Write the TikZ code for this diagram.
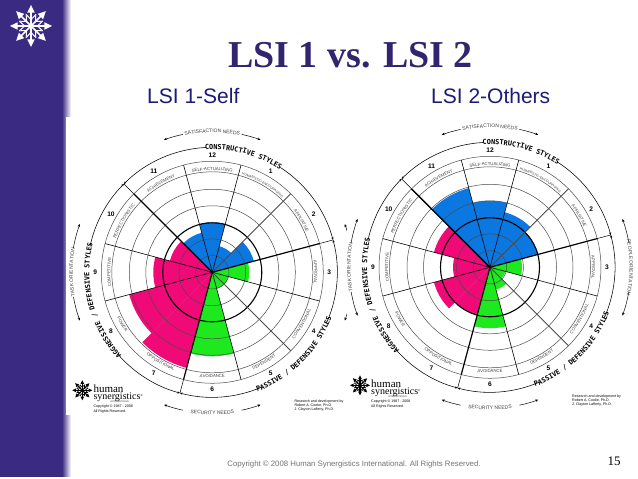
\documentclass[tikz,border=0pt]{standalone}
\usepackage{fontspec}
\setmainfont{Liberation Serif}
\newfontfamily\sansF{Liberation Sans}
\newfontfamily\monoF{DejaVu Sans Mono}
\usetikzlibrary{arrows.meta,decorations.text}
\definecolor{bandpurple}{HTML}{3B2A82}
\definecolor{subnavy}{HTML}{1C1C78}
\definecolor{lsiblue}{HTML}{0A78E0}
\definecolor{lsipink}{HTML}{F00A78}
\definecolor{lsigreen}{HTML}{1EE81E}
\definecolor{labelgray}{HTML}{404040}
\definecolor{ringgray}{HTML}{4A4A4A}
\newcommand\bandF{\sansF\fontsize{4.3}{4.3}\selectfont}
\newcommand\tinybandF{\sansF\fontsize{3.3}{3.3}\selectfont}
\newcommand\needsF{\sansF\fontsize{5}{5}\selectfont}
\newcommand\styleF{\monoF\bfseries\fontsize{6.9}{6.9}\selectfont}
\newcommand\arctext[6]{\path[decorate,decoration={text along path,text={|#4|#5},text align=center,text color=#6}] (#1:#3) arc[start angle=#1,end angle=#2,radius=#3];}
\newcommand\flake[5]{%
\begin{scope}[shift={(#1,#2)}]
\foreach \a in {0,45,...,315}{
\draw[#4,line width=#5] (0,0) -- (\a:#3*0.8);
\fill[#4] (\a:#3) -- (\a+16:#3*0.66) -- (\a-16:#3*0.66) -- cycle;
\draw[#4,line width=#5*0.6] (\a+22.5:#3*0.6) -- (\a:#3*0.3) -- (\a-22.5:#3*0.6);
}
\end{scope}}
\newcommand\lsichart[6]{%
\begin{scope}
\clip (#4,64) rectangle (#5,362);
\fill[white] (#4,64) rectangle (#5,362);
\begin{scope}[shift={(#2,#3)}]
\foreach \k/\vv/\cc in {#6}{
\pgfmathsetmacro\aa{90-30*\k}
\fill[\cc] (0,0) -- (\aa-15:\vv) arc[start angle=\aa-15,end angle=\aa+15,radius=\vv] -- cycle;
}
\foreach \rr in {16.7,33.4,66.5,83,100.5,111}{
\draw[ringgray,line width=0.5] (0,0) circle[radius=\rr];
}
\draw[black,line width=1.1] (0,0) circle[radius=49.5];
\foreach \aa in {75,105,165,195,285,345}{
\draw[black,line width=0.6] (0,0) -- (\aa:111);
}
\foreach \aa in {45,315}{
\draw[ringgray,line width=0.9] (0,0) -- (\aa:111);
}
\foreach \aa/\ww in {135/1.4,15/1.2,255/1.2}{
\draw[black,line width=\ww] (0,0) -- (\aa:111);
\draw[black,line width=0.5] (\aa:111) -- (\aa:125);
}
\foreach \s/\e in {57/15,-23/15,-67/-105,-139/-105,168/135,93/135}{
\draw[black,line width=0.55,-{Stealth[length=2.6pt,width=2.2pt]}] (\s:125) arc[start angle=\s,end angle=\e,radius=125];
}
\foreach \s/\e in {102/110,78/70,-102/-110,-78/-70,170/160,190/200,10/20,-10/-20}{
\draw[black,line width=0.5,-{Stealth[length=3pt,width=2.6pt]}] (\s:141) arc[start angle=\s,end angle=\e,radius=141];
}
\arctext{110}{70}{139.5}{\needsF}{SATISFACTION NEEDS}{labelgray}
\arctext{-110}{-70}{142.5}{\needsF}{SECURITY NEEDS}{labelgray}
\arctext{205}{155}{139.5}{\needsF}{TASK ORIENTATION}{labelgray}
\arctext{25}{-25}{139.5}{\needsF}{PEOPLE ORIENTATION}{labelgray}
\arctext{97}{53}{123}{\styleF}{CONSTRUCTIVE STYLES}{black}
\arctext{-71}{-19}{127.5}{\styleF}{PASSIVE / DEFENSIVE STYLES}{black}
\arctext{224}{165}{123}{\styleF}{AGGRESSIVE / DEFENSIVE STYLES}{black}
\arctext{105}{75}{102}{\bandF}{SELF-ACTUALIZING}{labelgray}
\arctext{75}{45}{102}{\tinybandF}{HUMANISTIC-ENCOURAGING}{labelgray}
\arctext{45}{15}{102}{\bandF}{AFFILIATIVE}{labelgray}
\arctext{15}{-15}{102}{\bandF}{APPROVAL}{labelgray}
\arctext{-45}{-15}{105.5}{\bandF}{CONVENTIONAL}{labelgray}
\arctext{-75}{-45}{105.5}{\bandF}{DEPENDENT}{labelgray}
\arctext{-105}{-75}{105.5}{\bandF}{AVOIDANCE}{labelgray}
\arctext{-135}{-105}{105.5}{\bandF}{OPPOSITIONAL}{labelgray}
\arctext{-165}{-135}{105.5}{\bandF}{POWER}{labelgray}
\arctext{195}{165}{102}{\bandF}{COMPETITIVE}{labelgray}
\arctext{165}{135}{102}{\bandF}{PERFECTIONISTIC}{labelgray}
\arctext{135}{105}{102}{\bandF}{ACHIEVEMENT}{labelgray}
\foreach \k in {1,...,12}{
\node[font=\sansF\bfseries\fontsize{6.6}{6.6}\selectfont,inner sep=0pt] (#1num\k) at ({90-30*\k}:117) {\k};
}
\flake{-130}{-118}{10}{black}{1.1}
\node[font=\fontsize{11}{11}\selectfont,anchor=west,inner sep=0pt] (#1human) at (-119,-116) {human};
\node[font=\fontsize{10}{10}\selectfont,anchor=west,inner sep=0pt] (#1syn) at (-119,-124.5) {synergistics\raisebox{3pt}{\fontsize{3}{3}\selectfont ®}};
\node[font=\sansF\fontsize{2.4}{2.4}\selectfont,anchor=west,inner sep=0pt,labelgray] (#1intl) at (-102,-129.5) {INTERNATIONAL};
\node[font=\sansF\fontsize{3.6}{4.6}\selectfont,anchor=north west,inner sep=0pt,align=left] (#1copy) at (-119,-132.5) {Copyright © 1987 - 2008\\All Rights Reserved.};
\node[font=\sansF\fontsize{3.6}{4.4}\selectfont,anchor=north west,inner sep=0pt,align=left] (#1res) at (82,-127) {Research and development by\\Robert A. Cooke, Ph.D.\\J. Clayton Lafferty, Ph.D.};
\end{scope}
\end{scope}}
\begin{document}
\begin{tikzpicture}[x=1pt,y=1pt]
\path[use as bounding box,fill=white] (0,0) rectangle (638,479);
\fill[bandpurple] (0,2) rectangle (62,479);
\shade[left color=bandpurple,right color=white] (62,2) rectangle (71,479);
\flake{31}{453}{21}{white}{1.6}
\lsichart{a}{212.3}{206.7}{66}{347}{12/50/lsiblue,1/27/lsiblue,2/43/lsiblue,3/37/lsigreen,4/17/lsigreen,5/17/lsigreen,6/84/lsigreen,7/99/lsipink,8/86/lsipink,9/59/lsipink,10/44/lsipink,11/41/lsiblue}
\lsichart{b}{490}{211.7}{347}{638}{12/66.5/lsiblue,1/57/lsiblue,2/50/lsiblue,3/32/lsigreen,4/16/lsigreen,5/23/lsigreen,6/61/lsigreen,7/49.5/lsipink,8/58/lsipink,9/37/lsipink,10/58/lsipink,11/82/lsiblue}
\node[font=\bfseries\fontsize{38}{38}\selectfont,text=bandpurple!85!black,inner sep=0pt] (title) at (350.5,424) {LSI 1 vs. LSI 2};
\node[font=\sansF\fontsize{21}{22}\selectfont,text=subnavy,anchor=base west,inner sep=0pt] (self) at (147,375) {LSI 1-Self};
\node[font=\sansF\fontsize{21}{22}\selectfont,text=subnavy,anchor=base west,inner sep=0pt] (others) at (431,375) {LSI 2-Others};
\node[font=\sansF\fontsize{7.8}{9}\selectfont,text=black!55,inner sep=0pt] (copyright) at (354,15) {Copyright © 2008 Human Synergistics International. All Rights Reserved.};
\node[font=\fontsize{13}{13}\selectfont,inner sep=0pt] (page) at (614,18) {15};
\end{tikzpicture}
\end{document}
